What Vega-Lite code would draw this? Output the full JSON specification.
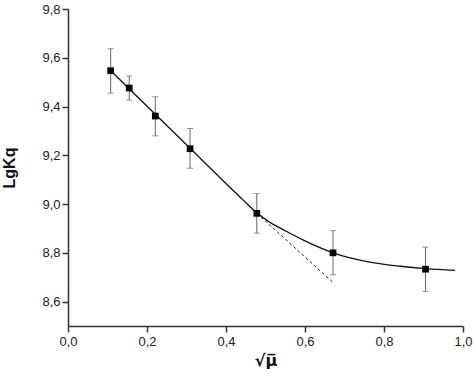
{
  "$schema": "https://vega.github.io/schema/vega-lite/v6.json",
  "width": 395,
  "height": 317,
  "autosize": "none",
  "padding": {"left": 68, "top": 9, "right": 11, "bottom": 55},
  "background": "white",
  "datasets": {
    "pts": [
      {"x": 0.108, "y": 9.547},
      {"x": 0.155, "y": 9.476},
      {"x": 0.221, "y": 9.361},
      {"x": 0.309, "y": 9.227},
      {"x": 0.478, "y": 8.962},
      {"x": 0.671, "y": 8.8},
      {"x": 0.905, "y": 8.733}
    ],
    "err": [
      {"x": 0.108, "y": 9.455, "y2": 9.637},
      {"x": 0.155, "y": 9.426, "y2": 9.525},
      {"x": 0.221, "y": 9.28, "y2": 9.44},
      {"x": 0.309, "y": 9.147, "y2": 9.31},
      {"x": 0.478, "y": 8.881, "y2": 9.043},
      {"x": 0.671, "y": 8.71, "y2": 8.891},
      {"x": 0.905, "y": 8.642, "y2": 8.824}
    ],
    "fit": [
      {"x": 0.108, "y": 9.547},
      {"x": 0.3, "y": 9.243},
      {"x": 0.44, "y": 9.022},
      {"x": 0.478, "y": 8.964},
      {"x": 0.512, "y": 8.924},
      {"x": 0.545, "y": 8.895},
      {"x": 0.596, "y": 8.852},
      {"x": 0.671, "y": 8.8},
      {"x": 0.757, "y": 8.764},
      {"x": 0.841, "y": 8.745},
      {"x": 0.905, "y": 8.735},
      {"x": 0.98, "y": 8.728}
    ],
    "tan": [
      {"x": 0.478, "y": 8.962},
      {"x": 0.67, "y": 8.68}
    ]
  },
  "layer": [
    {
      "data": {"name": "fit"},
      "mark": {"type": "line", "color": "#111", "strokeWidth": 1.3, "interpolate": "monotone"},
      "encoding": {
        "x": {
          "field": "x", "type": "quantitative",
          "scale": {"domain": [0, 1], "nice": false, "zero": false},
          "axis": {
            "title": "√μ̅",
            "titleFont": "DejaVu Sans",
            "titleFontSize": 16,
            "values": [0, 0.1, 0.2, 0.3, 0.4, 0.5, 0.6, 0.7, 0.8, 0.9, 1.0],
            "labelExpr": "abs(datum.value*5 - round(datum.value*5)) < 0.001 ? replace(format(datum.value, '.1f'), '.', ',') : ''",
            "tickDash": {"condition": {"test": "abs(datum.value*5 - round(datum.value*5)) < 0.001", "value": []}, "value": [3, 10]},
            "tickSize": 6,
            "labelOverlap": false,
            "labelPadding": 3,
            "titlePadding": 4
          }
        },
        "y": {
          "field": "y", "type": "quantitative",
          "scale": {"domain": [8.5, 9.8], "nice": false, "zero": false},
          "axis": {
            "title": "LgKq",
            "titleFontSize": 16,
            "values": [8.6, 8.7, 8.8, 8.9, 9.0, 9.1, 9.2, 9.3, 9.4, 9.5, 9.6, 9.7, 9.8],
            "labelExpr": "abs(datum.value*5 - round(datum.value*5)) < 0.001 ? replace(format(datum.value, '.1f'), '.', ',') : ''",
            "tickDash": {"condition": {"test": "abs(datum.value*5 - round(datum.value*5)) < 0.001", "value": []}, "value": [3, 10]},
            "tickSize": 6,
            "labelOverlap": false,
            "labelPadding": 2,
            "titlePadding": 24
          }
        }
      }
    },
    {
      "data": {"name": "tan"},
      "mark": {"type": "line", "color": "#222", "strokeWidth": 1, "strokeDash": [3, 2.5]},
      "encoding": {
        "x": {"field": "x", "type": "quantitative"},
        "y": {"field": "y", "type": "quantitative"}
      }
    },
    {
      "data": {"name": "err"},
      "mark": {"type": "errorbar", "color": "#666", "thickness": 1, "ticks": {"size": 6, "color": "#666"}},
      "encoding": {
        "x": {"field": "x", "type": "quantitative"},
        "y": {"field": "y", "type": "quantitative", "title": "LgKq"},
        "y2": {"field": "y2"}
      }
    },
    {
      "data": {"name": "pts"},
      "mark": {"type": "point", "shape": "square", "filled": true, "color": "#000", "opacity": 1, "size": 45},
      "encoding": {
        "x": {"field": "x", "type": "quantitative"},
        "y": {"field": "y", "type": "quantitative"}
      }
    }
  ],
  "config": {
    "view": {"stroke": null},
    "axis": {
      "grid": false,
      "domainColor": "#333",
      "domainWidth": 1.5,
      "tickColor": "#333",
      "tickWidth": 1.5,
      "labelFont": "Liberation Sans",
      "labelFontSize": 13,
      "labelColor": "#222",
      "titleFont": "Liberation Sans",
      "titleFontSize": 14,
      "titleFontWeight": "bold",
      "titleColor": "#111",
      "labelFlush": false,
      "labelOverlap": false
    }
  }
}
